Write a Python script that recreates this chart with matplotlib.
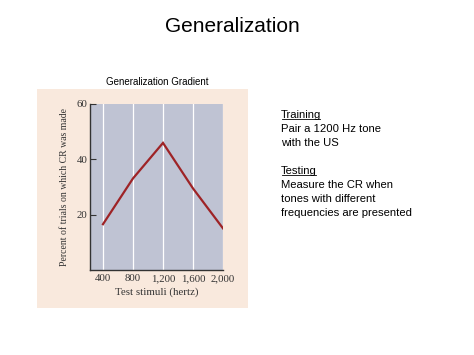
import matplotlib
matplotlib.use("Agg")
import matplotlib.pyplot as plt
from matplotlib.patches import Rectangle
from matplotlib.lines import Line2D

# data
STIMULI_HZ = [400, 800, 1200, 1600, 2000]
PERCENT_CR = [16.5, 33.0, 45.8, 29.4, 15.0]
X_TICK_LABELS = ["400", "800", "1,200", "1,600", "2,000"]
Y_TICKS = [20, 40, 60]

NOTES = [
    ("Training", True),
    ("Pair a 1200 Hz tone", False),
    ("with the US", False),
    ("", False),
    ("Testing", True),
    ("Measure the CR when", False),
    ("tones with different", False),
    ("frequencies are presented", False),
]

W, H = 474, 355
fig = plt.figure(figsize=(W / 100, H / 100), dpi=100)
fig.patch.set_facecolor("white")

sans = "Liberation Sans"
serif = "Liberation Serif"

# peach panel behind the chart
fig.add_artist(Rectangle((37 / W, 1 - 308 / H), 211 / W, 219 / H,
                         transform=fig.transFigure, facecolor="#f9e9dd",
                         edgecolor="none", zorder=0))

fig.text(232 / W, 1 - 27 / H, "Generalization", ha="center", va="center",
         fontsize=15, family=sans)
fig.text(157 / W, 1 - 82 / H, "Generalization Gradient", ha="center",
         va="center", fontsize=7, family=sans)

ax = fig.add_axes([90 / W, 1 - 270 / H, 133 / W, 166.5 / H])
ax.set_facecolor("#bfc3d3")
ax.set_xlim(227, 2000)
ax.set_ylim(0, 60)
for x in STIMULI_HZ:
    ax.axvline(x, color="white", lw=0.9, zorder=1)
ax.plot(STIMULI_HZ, PERCENT_CR, color="#9e2326", lw=1.6, zorder=3,
        solid_joinstyle="miter")

for side in ("top", "right"):
    ax.spines[side].set_visible(False)
for side in ("left", "bottom"):
    ax.spines[side].set_color("#333333")
    ax.spines[side].set_linewidth(1.0)

ax.set_xticks(STIMULI_HZ)
ax.set_xticklabels(X_TICK_LABELS, family=serif, fontsize=7.8, color="#333333")
ax.set_yticks(Y_TICKS)
ax.set_yticklabels([str(v) for v in Y_TICKS], family=serif, fontsize=7.8,
                   color="#333333")
ax.tick_params(axis="x", length=0, pad=3)
ax.tick_params(axis="y", direction="in", length=4, width=0.8,
               color="#333333", pad=2)
ax.set_xlabel("Test stimuli (hertz)", family=serif, fontsize=7.8,
              color="#333333", labelpad=3)
ax.set_ylabel("Percent of trials on which CR was made", family=serif,
              fontsize=7, color="#333333", labelpad=5)

# notes on the right, with underlined headings
fig.canvas.draw()
renderer = fig.canvas.get_renderer()
y0 = 115
for i, (line, underline) in enumerate(NOTES):
    if not line:
        continue
    yy = y0 + i * 14.0
    t = fig.text(281 / W, 1 - yy / H, line, ha="left", va="center",
                 fontsize=8.1, family=sans)
    if underline:
        bb = t.get_window_extent(renderer)
        uy = bb.y0 + 1.5
        fig.add_artist(Line2D([(bb.x0 + 0.5) / W, (bb.x1 - 1) / W],
                              [uy / H, uy / H],
                              transform=fig.transFigure, color="black",
                              lw=0.6))

fig.savefig("out.png", dpi=100)
